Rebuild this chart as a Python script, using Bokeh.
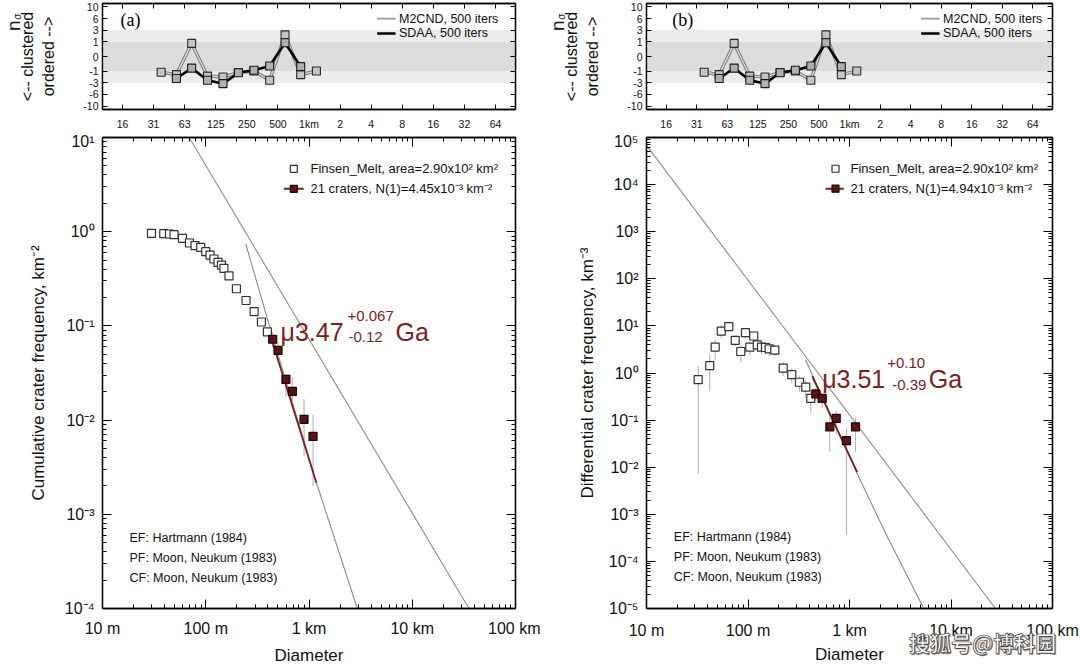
import numpy as np
from bokeh.plotting import figure
from bokeh.layouts import column, row
from bokeh.models import (ColumnDataSource, FixedTicker, LogAxis, LinearAxis, Range1d,
                          BoxAnnotation, Title, Div, CustomJSTickFormatter)
from bokeh.core.properties import value
from bokeh.embed import file_html
from bokeh.resources import INLINE

FONT = "Liberation Sans"
SERIF = "Liberation Serif"
MAROON = "#7b1f22"
FILL_DARK = "#5a1416"
GREY_LINE = "#8c8c8c"
ERR_GREY = "#b4b4b4"

# ---------------- data ----------------
# n-sigma randomness analysis, per sqrt(2) diameter bin (km)
ns_diam_km = [0.037, 0.052, 0.073, 0.104, 0.147, 0.207, 0.293, 0.416, 0.586, 0.831, 1.18]
ns_m2cnd = [-1.2, -1.6, 0.9, -1.85, -2.0, -1.25, -1.0, -2.55, 2.2, -1.6, -1.0]
ns_sdaa = [None, -2.25, -0.8, -2.55, -3.2, -1.3, -0.95, -0.65, 0.95, -0.7, None]
# the n-sigma axis is warped: tick values and where they sit on the axis
ns_tick_values = [-10, -6, -3, -1, 0, 1, 3, 6, 10]
ns_tick_pos = [-50.3, -38.3, -26.7, -14.7, 0.0, 14.7, 26.7, 38.3, 50.3]
ns_x_ticks = [0.015625, 0.03125, 0.0625, 0.125, 0.25, 0.5, 1.0, 2.0, 4.0, 8.0, 16.0, 32.0, 64.0]
ns_x_labels = ["16", "31", "63", "125", "250", "500", "1km", "2", "4", "8", "16", "32", "64"]

# cumulative SFD (Finsen melt, area 290 km^2)
cum_diam_km = [0.0298, 0.0392, 0.0445, 0.0493, 0.0595, 0.0695, 0.0788, 0.0894, 0.100, 0.110,
               0.120, 0.1315, 0.142, 0.150, 0.168, 0.198, 0.2455, 0.294, 0.346, 0.395]
cum_freq = [0.962, 0.952, 0.945, 0.929, 0.851, 0.759, 0.710, 0.682, 0.613, 0.565,
            0.513, 0.472, 0.442, 0.408, 0.340, 0.248, 0.186, 0.142, 0.110, 0.0863]
cum_fit_diam_km = [0.445, 0.501, 0.598, 0.690, 0.895, 1.094]
cum_fit_freq = [0.0722, 0.0551, 0.0271, 0.0202, 0.0102, 0.00671]
cum_fit_lo = [0.059, 0.043, 0.0179, 0.0136, 0.00414, 0.00199]
cum_fit_hi = [0.086, 0.068, 0.0306, 0.0285, 0.0166, 0.0115]
cum_pf_diam_km = [0.244, 0.426, 1.18, 2.94]
cum_pf_freq = [0.74, 0.090, 0.00216, 1e-4]
cum_ef_diam_km = [0.0692, 35.4]
cum_ef_freq = [10.0, 1e-4]
cum_fitline_diam_km = [0.410, 1.179]
cum_fitline_freq = [0.0885, 0.00216]

# differential SFD
diff_diam_km = [0.0323, 0.0420, 0.0475, 0.0545, 0.0647, 0.0748, 0.0849, 0.0944, 0.1042, 0.114,
                0.1233, 0.1358, 0.1486, 0.1617, 0.1836, 0.2223, 0.270, 0.3214, 0.3707, 0.4155]
diff_freq = [0.723, 1.43, 3.53, 7.78, 9.62, 4.95, 2.86, 7.19, 3.53, 6.10,
             3.94, 3.53, 3.48, 3.25, 3.05, 1.27, 0.921, 0.637, 0.500, 0.288]
diff_lo = [0.00723, 0.412, 1.91, 5.5, 7.5, 3.7, 1.7, 5.4, 2.4, 4.6,
           2.8, 2.5, 2.5, 2.3, 2.3, 0.85, 0.6, 0.4, 0.3, 0.144]
diff_hi = [1.40, 2.43, 5.02, 10.5, 12.0, 6.2, 3.9, 9.0, 4.7, 7.6,
           5.1, 4.6, 4.5, 4.2, 3.8, 1.7, 1.25, 0.88, 0.7, 0.43]
diff_fit_diam_km = [0.4656, 0.538, 0.640, 0.740, 0.933, 1.146]
diff_fit_freq = [0.361, 0.288, 0.0719, 0.109, 0.0365, 0.0719]
diff_fit_lo = [0.254, 0.183, 0.0207, 0.0502, 0.00037, 0.0207]
diff_fit_hi = [0.483, 0.349, 0.156, 0.156, 0.0695, 0.113]
diff_pf_diam_km = [0.3685, 1.235, 2.35, 5.40]
diff_pf_freq = [1.905, 0.0062, 3.36e-4, 1e-5]
diff_ef_diam_km = [0.01, 27.4]
diff_ef_freq = [6.8e4, 1e-5]
diff_fitline_diam_km = [0.429, 1.19]
diff_fitline_freq = [0.853, 0.00785]

# ---------------- helpers ----------------
SUP = str.maketrans("0123456789-", "⁰¹²³⁴⁵⁶⁷⁸⁹⁻")
X_DECADE_LABELS = ["10 m", "100 m", "1 km", "10 km", "100 km"]


def decade_ticker(lo, hi):
    majors = [10.0 ** e for e in range(lo, hi + 1)]
    minors = [m * 10.0 ** e for e in range(lo, hi) for m in range(2, 10)]
    return FixedTicker(ticks=majors, minor_ticks=minors)


def style_axis(ax, major_in=8, minor_in=4):
    ax.major_tick_in = major_in
    ax.major_tick_out = 0
    ax.minor_tick_in = minor_in
    ax.minor_tick_out = 0
    ax.axis_line_color = "black"
    ax.axis_line_width = 1.3
    ax.major_tick_line_color = "black"
    ax.minor_tick_line_color = "black"
    ax.major_label_text_font = FONT
    ax.major_label_text_font_style = "normal"
    ax.major_label_text_color = "#111111"
    ax.axis_label_text_font = FONT
    ax.axis_label_text_font_style = "normal"
    ax.axis_label_text_color = "#111111"


def blank_axis(cls, ticker, major_in, minor_in):
    ax = cls(ticker=ticker, formatter=CustomJSTickFormatter(code="return ''"),
             major_label_text_font_size="0px", major_label_standoff=0)
    style_axis(ax, major_in, minor_in)
    return ax


def ns_pos(vals):
    arr = np.array([np.nan if v is None else v for v in vals], dtype=float)
    return np.interp(arr, ns_tick_values, ns_tick_pos)


def side_title(text, size, align, offset, standoff):
    return Title(text=text, align=align, offset=offset, standoff=standoff,
                 text_font=FONT, text_font_size=size, text_font_style="normal",
                 text_color="#111111")


# ---------------- n-sigma strip ----------------
def ns_panel(tag, tag_dx, border_left, border_right):
    per_dec = (540 - border_left - border_right) / 4.0
    half = 53.6

    def kx(dx):
        return 10 ** (dx / per_dec - 2)

    def py(dy):
        return half - dy

    p = figure(width=540, height=132, x_axis_type="log",
               x_range=Range1d(0.01, 100), y_range=Range1d(-half, half),
               min_border_left=border_left, min_border_right=border_right,
               min_border_top=3, min_border_bottom=22,
               toolbar_location=None, output_backend="svg")
    p.grid.visible = False
    p.outline_line_color = "black"
    p.outline_line_width = 1.3

    p.add_layout(BoxAnnotation(bottom=float(ns_pos([-3])[0]), top=float(ns_pos([3])[0]),
                               fill_color="#ececec", fill_alpha=1, line_color=None,
                               level="underlay"))
    p.add_layout(BoxAnnotation(bottom=float(ns_pos([-1])[0]), top=float(ns_pos([1])[0]),
                               fill_color="#dcdcde", fill_alpha=1, line_color=None,
                               level="underlay"))

    src = ColumnDataSource(dict(d=ns_diam_km, m2=ns_pos(ns_m2cnd), sd=ns_pos(ns_sdaa)))
    p.line("d", "m2", source=src, line_color="#7e7e7e", line_width=3.4)
    p.line("d", "m2", source=src, line_color="#dadada", line_width=1.3)
    p.line("d", "sd", source=src, line_color="black", line_width=2.6)
    p.scatter("d", "m2", source=src, marker="square", size=8, fill_color="#c4c4c4",
              line_color="#2a2a2a", line_width=1.1)
    p.scatter("d", "sd", source=src, marker="square", size=8, fill_color="#b0b0b0",
              line_color="#1a1a1a", line_width=1.1)

    # legend
    p.line([kx(274.7), kx(293)], [py(15.3), py(15.3)], line_color="#999999", line_width=1.6)
    p.line([kx(274.7), kx(293)], [py(30.3), py(30.3)], line_color="black", line_width=2.6)
    p.text([kx(296.5), kx(296.5)], [py(15.3), py(30.3)],
           text=["M2CND, 500 iters", "SDAA, 500 iters"],
           text_font=value(FONT), text_font_size="12.5px", text_color="#111111",
           text_baseline="middle", text_align="left")
    p.text([kx(tag_dx)], [py(16.5)], text=[tag],
           text_font=value(SERIF), text_font_size="18px", text_color="black",
           text_baseline="middle", text_align="left")

    bx = p.below[0]
    ly = p.left[0]
    xt = FixedTicker(ticks=ns_x_ticks, minor_ticks=[])
    yt = FixedTicker(ticks=ns_tick_pos, minor_ticks=[])
    style_axis(bx, 5, 0)
    style_axis(ly, 5, 0)
    bx.ticker = xt
    bx.major_label_overrides = dict(zip(ns_x_ticks, ns_x_labels))
    bx.major_label_text_font_size = "10.5px"
    bx.major_label_standoff = 8
    ly.ticker = yt
    ly.major_label_overrides = {pp: str(v) for pp, v in zip(ns_tick_pos, ns_tick_values)}
    ly.major_label_text_font_size = "10.5px"
    ly.major_label_standoff = 4
    ly.axis_label = "ordered -->"
    ly.axis_label_text_font_size = "16px"
    ly.axis_label_standoff = 23
    p.add_layout(blank_axis(LogAxis, xt, 5, 0), "above")
    p.add_layout(blank_axis(LinearAxis, yt, 5, 0), "right")

    # rest of the rotated y label, stacked outward from the axis
    p.add_layout(side_title("<-- clustered", "16px", "center", 0, 3), "left")
    p.add_layout(side_title("n", "19px", "right", 17, -16), "left")
    p.add_layout(side_title("σ", "10px", "right", 10, -29), "left")
    return p


# ---------------- SFD panels ----------------
def sfd_panel(border_left, border_right, border_bottom, y_lo, y_hi, ylabel,
              ylabel_standoff, tick_standoff, xlabel_standoff):
    height = 535
    top_b = 5
    frame_w = 540 - border_left - border_right
    frame_h = height - top_b - border_bottom
    xdec = frame_w / 4.0
    ydec = frame_h / float(y_hi - y_lo)

    def kx(dx):
        return 10 ** (dx / xdec - 2)

    def fy(dy):
        return 10 ** (y_hi - dy / ydec)

    p = figure(width=540, height=height, x_axis_type="log", y_axis_type="log",
               x_range=Range1d(0.01, 100), y_range=Range1d(10.0 ** y_lo, 10.0 ** y_hi),
               min_border_left=border_left, min_border_right=border_right,
               min_border_top=top_b, min_border_bottom=border_bottom,
               toolbar_location=None, output_backend="svg")
    p.grid.visible = False
    p.outline_line_color = "black"
    p.outline_line_width = 1.3

    xt = decade_ticker(-2, 2)
    yt = decade_ticker(y_lo, y_hi)
    bx = p.below[0]
    ly = p.left[0]
    style_axis(bx, 9, 4)
    style_axis(ly, 9, 4)
    bx.ticker = xt
    bx.major_label_overrides = dict(zip([10.0 ** e for e in range(-2, 3)], X_DECADE_LABELS))
    bx.major_label_text_font_size = "16px"
    bx.major_label_standoff = tick_standoff
    bx.axis_label = "Diameter"
    bx.axis_label_text_font_size = "17px"
    bx.axis_label_standoff = xlabel_standoff
    ly.ticker = yt
    ly.major_label_overrides = {10.0 ** e: "10" + str(e).translate(SUP)
                                for e in range(y_lo, y_hi + 1)}
    ly.major_label_text_font_size = "16px"
    ly.major_label_standoff = 8
    ly.axis_label = ylabel
    ly.axis_label_text_font_size = "17px"
    ly.axis_label_standoff = ylabel_standoff
    p.add_layout(blank_axis(LogAxis, xt, 9, 4), "above")
    p.add_layout(blank_axis(LogAxis, yt, 9, 4), "right")
    return p, kx, fy


def draw_sfd(p, kx, fy, d, f, lo, hi, fd, ff, flo, fhi, pf_d, pf_f, ef_d, ef_f,
             fl_d, fl_f, legend_n1, age, plus, minus, layout):
    p.line(ef_d, ef_f, line_color=GREY_LINE, line_width=1.1)
    p.line(pf_d, pf_f, line_color=GREY_LINE, line_width=1.1)
    if lo is not None:
        p.segment(d, lo, d, hi, line_color=ERR_GREY, line_width=1.1)
    p.segment(fd, flo, fd, fhi, line_color=ERR_GREY, line_width=1.1)
    p.line(fl_d, fl_f, line_color=MAROON, line_width=1.8)
    p.scatter(d, f, marker="square", size=8, fill_color="white",
              line_color="#333333", line_width=1.2)
    p.scatter(fd, ff, marker="square", size=8, fill_color=FILL_DARK,
              line_color="#1c0606", line_width=1.2)

    # legend
    sq_x, txt_x, line_x0, line_x1 = layout["legend_x"]
    p.scatter([kx(sq_x)], [fy(31.3)], marker="square", size=7, fill_color="white",
              line_color="#333333", line_width=1.2)
    p.line([kx(line_x0), kx(line_x1)], [fy(51.3), fy(51.3)], line_color=MAROON, line_width=2)
    p.scatter([kx(sq_x)], [fy(51.3)], marker="square", size=7, fill_color=FILL_DARK,
              line_color="#1c0606", line_width=1.2)
    p.text([kx(txt_x), kx(txt_x)], [fy(31.3), fy(51.3)],
           text=["Finsen_Melt, area=2.90x10² km²",
                 "21 craters, N(1)=" + legend_n1 + "x10⁻³ km⁻²"],
           text_font=value(FONT), text_font_size="13px", text_color="#111111",
           text_baseline="middle", text_align="left")

    # model age label
    ax0, by, sx, sy, bx, byy, gx = layout["age"]
    p.text([kx(ax0), kx(gx)], [fy(by), fy(by)], text=["μ" + age, "Ga"],
           text_font=value(FONT), text_font_size="25px", text_color=MAROON,
           text_baseline="alphabetic", text_align="left")
    p.text([kx(sx), kx(bx)], [fy(sy), fy(byy)], text=[plus, minus],
           text_font=value(FONT), text_font_size="15px", text_color=MAROON,
           text_baseline="alphabetic", text_align="left")

    # chronology notes
    ex, ey = layout["notes"]
    p.text([kx(ex)] * 3, [fy(ey), fy(ey + 20), fy(ey + 40)],
           text=["EF: Hartmann (1984)", "PF: Moon, Neukum (1983)", "CF: Moon, Neukum (1983)"],
           text_font=value(FONT), text_font_size="12.5px", text_color="#111111",
           text_baseline="middle", text_align="left")


# left column: cumulative
top_a = ns_panel("(a)", 18, 102, 25)
cum_p, ckx, cfy = sfd_panel(102, 25, 59, -4, 1, "Cumulative crater frequency, km⁻²",
                            14, 11, 6)
draw_sfd(cum_p, ckx, cfy, cum_diam_km, cum_freq, None, None,
         cum_fit_diam_km, cum_fit_freq, cum_fit_lo, cum_fit_hi,
         cum_pf_diam_km, cum_pf_freq, cum_ef_diam_km, cum_ef_freq,
         cum_fitline_diam_km, cum_fitline_freq, "4.45", "3.47", "+0.067", "-0.12",
         dict(legend_x=(191.3, 208, 181.3, 201.3),
              age=(178, 194.7, 245, 178, 246, 199, 293),
              notes=(27, 400)))

# right column: differential
top_b = ns_panel("(b)", 25.7, 106, 28)
diff_p, dkx, dfy = sfd_panel(106, 28, 58, -5, 5, "Differential crater frequency, km⁻³",
                             9, 13, 3)
draw_sfd(diff_p, dkx, dfy, diff_diam_km, diff_freq, diff_lo, diff_hi,
         diff_fit_diam_km, diff_fit_freq, diff_fit_lo, diff_fit_hi,
         diff_pf_diam_km, diff_pf_freq, diff_ef_diam_km, diff_ef_freq,
         diff_fitline_diam_km, diff_fitline_freq, "4.94", "3.51", "+0.10", "-0.39",
         dict(legend_x=(189, 204, 179, 197.3),
              age=(175.7, 242, 240.7, 226, 245.7, 248, 282.3),
              notes=(27.3, 400.3)))

# source watermark over the lower right corner
mark = Div(text="搜狐号@博科园", width=160, height=30,
           styles={"position": "absolute", "left": "904px", "top": "622px",
                   "z-index": "10", "color": "white", "white-space": "nowrap",
                   "font-family": "'Noto Sans CJK SC'", "font-size": "21px",
                   "font-weight": "bold", "-webkit-text-stroke": "0.7px #404040",
                   "text-shadow": "1px 1px 1px #666"})

layout = column(row(top_a, top_b), row(cum_p, diff_p), mark)
open("out.html", "w").write(file_html(layout, INLINE))
